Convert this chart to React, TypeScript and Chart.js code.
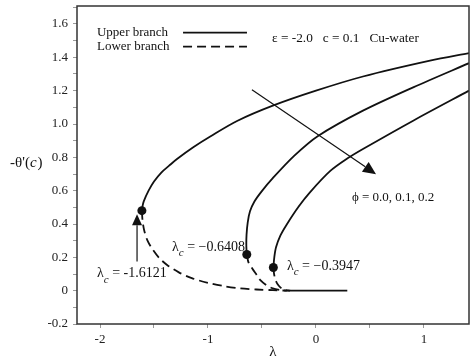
import React, { useEffect, useRef } from 'react';
import { Chart, registerables } from 'chart.js';
Chart.register(...registerables);

const FONT = '"Liberation Serif", "Times New Roman", serif';

// phi = 0.0
const upperLambda0 = [-1.6121, -1.607, -1.595, -1.55, -1.5, -1.43, -1.36, -1.287, -1.133, -0.979, -0.731, -0.4, 0.0, 0.435, 1.056, 1.417];
const upperTheta0 = [0.48, 0.505, 0.536, 0.6, 0.655, 0.71, 0.75, 0.79, 0.862, 0.925, 1.018, 1.11, 1.2, 1.285, 1.38, 1.425];
const lowerLambda0 = [-1.6121, -1.606, -1.59, -1.56, -1.51, -1.45, -1.37, -1.27, -1.15, -1.0, -0.85, -0.7, -0.55, -0.4, -0.27];
const lowerTheta0 = [0.48, 0.42, 0.36, 0.3, 0.245, 0.195, 0.15, 0.11, 0.075, 0.047, 0.027, 0.014, 0.007, 0.003, 0.0];
// phi = 0.1
const upperLambda1 = [-0.6408, -0.645, -0.643, -0.632, -0.611, -0.57, -0.503, -0.4, -0.2, 0.019, 0.435, 0.9, 1.417];
const upperTheta1 = [0.217, 0.27, 0.335, 0.41, 0.476, 0.535, 0.596, 0.675, 0.81, 0.928, 1.08, 1.22, 1.365];
const lowerLambda1 = [-0.6408, -0.625, -0.59, -0.55, -0.52, -0.46, -0.4, -0.33, -0.27];
const lowerTheta1 = [0.217, 0.17, 0.133, 0.095, 0.066, 0.033, 0.014, 0.004, 0.0];
// phi = 0.2
const upperLambda2 = [-0.3947, -0.386, -0.37, -0.33, -0.272, -0.16, -0.056, 0.13, 0.3, 0.435, 0.9, 1.417];
const upperTheta2 = [0.139, 0.2, 0.26, 0.33, 0.396, 0.505, 0.59, 0.717, 0.797, 0.85, 1.02, 1.2];
const lowerLambda2 = [-0.3947, -0.388, -0.375, -0.355, -0.33, -0.3, -0.24];
const lowerTheta2 = [0.139, 0.1, 0.065, 0.038, 0.02, 0.007, 0.0];
// zero-solution segment
const zeroLambda = [-0.27, 0.29];
const zeroTheta = [0, 0];
// critical points
const criticalLambda = [-1.6121, -0.6408, -0.3947];
const criticalTheta = [0.48, 0.217, 0.139];
const criticalLabels = ['-1.6121', '\u22120.6408', '\u22120.3947'];

// ticks
const xTickValues = [-2, -1.5, -1, -0.5, 0, 0.5, 1];
const xTickLabels = ['-2', '', '-1', '', '0', '', '1'];
const yTickValues = [-0.2, -0.1, 0, 0.1, 0.2, 0.3, 0.4, 0.5, 0.6, 0.7, 0.8, 0.9, 1.0, 1.1, 1.2, 1.3, 1.4, 1.5, 1.6, 1.7];
const yTickLabels = ['-0.2', '', '0', '', '0.2', '', '0.4', '', '0.6', '', '0.8', '', '1.0', '', '1.2', '', '1.4', '', '1.6', ''];

const X_MIN = -2.213;
const X_MAX = 1.417;
const Y_MIN = -0.2;
const Y_MAX = 1.708;

function pts(xs: number[], ys: number[]) {
  return xs.map((x, i) => ({ x, y: ys[i] }));
}

const annotationPlugin = {
  id: 'annotations',
  afterDraw(chart: any) {
    const { ctx, chartArea, scales } = chart;
    const px = (v: number) => scales.x.getPixelForValue(v);
    const py = (v: number) => scales.y.getPixelForValue(v);
    ctx.save();
    // frame
    ctx.strokeStyle = '#333';
    ctx.lineWidth = 1.5;
    ctx.strokeRect(chartArea.left, chartArea.top, chartArea.right - chartArea.left, chartArea.bottom - chartArea.top);

    ctx.fillStyle = '#111';
    ctx.strokeStyle = '#111';
    ctx.textBaseline = 'middle';
    ctx.textAlign = 'left';

    // legend
    ctx.font = `13px ${FONT}`;
    ctx.fillText('Upper branch', px(-2.028), py(1.548));
    ctx.fillText('Lower branch', px(-2.028), py(1.464));
    ctx.lineWidth = 1.8;
    ctx.beginPath();
    ctx.moveTo(px(-1.231), py(1.548));
    ctx.lineTo(px(-0.639), py(1.548));
    ctx.stroke();
    ctx.setLineDash([9, 5]);
    ctx.beginPath();
    ctx.moveTo(px(-1.231), py(1.464));
    ctx.lineTo(px(-0.639), py(1.464));
    ctx.stroke();
    ctx.setLineDash([]);

    // parameters
    ctx.font = `13.3px ${FONT}`;
    ctx.fillText('ε = -2.0   c = 0.1   Cu-water', px(-0.407), py(1.512));
    ctx.font = `13px ${FONT}`;
    ctx.fillText('ϕ = 0.0, 0.1, 0.2', px(0.333), py(0.56));

    // lambda_c labels
    const lab = (x: number, y: number, val: string) => {
      let cx = px(x);
      const cy = py(y);
      ctx.font = `14px ${FONT}`;
      ctx.fillText('λ', cx, cy);
      cx += ctx.measureText('λ').width;
      ctx.font = `italic 11px ${FONT}`;
      ctx.fillText('c', cx, cy + 6);
      cx += ctx.measureText('c').width;
      ctx.font = `14px ${FONT}`;
      ctx.fillText(' = ' + val, cx, cy);
    };
    lab(-2.028, 0.102, criticalLabels[0]);
    lab(-1.333, 0.259, criticalLabels[1]);
    lab(-0.269, 0.145, criticalLabels[2]);

    // arrows
    const arrow = (x1: number, y1: number, x2: number, y2: number, len: number, half: number) => {
      const ax = px(x1), ay = py(y1), bx = px(x2), by = py(y2);
      const ang = Math.atan2(by - ay, bx - ax);
      const hx = bx - len * Math.cos(ang), hy = by - len * Math.sin(ang);
      ctx.lineWidth = 1.2;
      ctx.beginPath();
      ctx.moveTo(ax, ay);
      ctx.lineTo(hx, hy);
      ctx.stroke();
      ctx.beginPath();
      ctx.moveTo(bx, by);
      ctx.lineTo(hx + half * Math.sin(ang), hy - half * Math.cos(ang));
      ctx.lineTo(hx - half * Math.sin(ang), hy + half * Math.cos(ang));
      ctx.closePath();
      ctx.fill();
    };
    arrow(-0.593, 1.205, 0.556, 0.699, 13, 6);
    arrow(-1.657, 0.175, -1.657, 0.458, 11, 5);

    // axis titles
    ctx.font = `15px ${FONT}`;
    ctx.textAlign = 'center';
    ctx.fillText('λ', (chartArea.left + chartArea.right) / 2, 352);
    ctx.textAlign = 'left';
    let tx = 10;
    const ty = 163;
    ctx.font = `15px ${FONT}`;
    ctx.fillText("-θ'(", tx, ty);
    tx += ctx.measureText("-θ'(").width;
    ctx.font = `italic 15px ${FONT}`;
    ctx.fillText('c', tx, ty);
    tx += ctx.measureText('c').width + 1;
    ctx.font = `15px ${FONT}`;
    ctx.fillText(')', tx, ty);
    ctx.restore();
  },
};

export default function App() {
  const ref = useRef<HTMLCanvasElement>(null);
  useEffect(() => {
    document.body.style.margin = '0';
    const canvas = ref.current!;
    const line = { borderColor: '#111', borderWidth: 1.8, pointRadius: 0, tension: 0.3, fill: false, showLine: true };
    const chart = new Chart(canvas, {
      type: 'scatter',
      data: {
        datasets: [
          { ...line, label: 'upper0', data: pts(upperLambda0, upperTheta0) },
          { ...line, label: 'upper1', data: pts(upperLambda1, upperTheta1) },
          { ...line, label: 'upper2', data: pts(upperLambda2, upperTheta2) },
          { ...line, label: 'lower0', borderDash: [9, 5], data: pts(lowerLambda0, lowerTheta0) },
          { ...line, label: 'lower1', borderDash: [9, 5], data: pts(lowerLambda1, lowerTheta1) },
          { ...line, label: 'lower2', borderDash: [9, 5], data: pts(lowerLambda2, lowerTheta2) },
          { ...line, label: 'zero', tension: 0, data: pts(zeroLambda, zeroTheta) },
          {
            label: 'critical',
            showLine: false,
            data: pts(criticalLambda, criticalTheta),
            pointRadius: 4.5,
            pointBackgroundColor: '#111',
            pointBorderColor: '#111',
            pointBorderWidth: 0,
          },
        ] as any,
      },
      options: {
        animation: false,
        responsive: false,
        maintainAspectRatio: false,
        layout: { padding: { left: 0, right: 5, top: 6, bottom: 0 } },
        plugins: { legend: { display: false }, tooltip: { enabled: false }, title: { display: false } },
        scales: {
          x: {
            type: 'linear',
            min: X_MIN,
            max: X_MAX,
            afterBuildTicks: (s: any) => {
              s.ticks = xTickValues.map((v) => ({ value: v }));
            },
            afterFit: (s: any) => {
              s.height = 40;
              s.paddingLeft = 0;
              s.paddingRight = 0;
            },
            ticks: {
              autoSkip: false,
              maxRotation: 0,
              padding: 4,
              color: '#222',
              font: { family: FONT, size: 13 },
              callback: (_v: any, i: number) => xTickLabels[i],
            },
            grid: { drawOnChartArea: false, drawTicks: true, tickLength: 4, color: '#999' },
            border: { display: false },
          },
          y: {
            type: 'linear',
            min: Y_MIN,
            max: Y_MAX,
            afterBuildTicks: (s: any) => {
              s.ticks = yTickValues.map((v) => ({ value: v }));
            },
            afterFit: (s: any) => {
              s.width = 77;
              s.paddingTop = 0;
              s.paddingBottom = 0;
            },
            ticks: {
              autoSkip: false,
              padding: 5,
              color: '#222',
              font: { family: FONT, size: 13 },
              callback: (_v: any, i: number) => yTickLabels[i],
            },
            grid: { drawOnChartArea: false, drawTicks: true, tickLength: 4, color: '#999' },
            border: { display: false },
          },
        },
      },
      plugins: [annotationPlugin],
    });
    return () => chart.destroy();
  }, []);
  return (
    <div style={{ width: 474, height: 364 }}>
      <canvas ref={ref} width={474} height={364} style={{ display: 'block' }} />
    </div>
  );
}
